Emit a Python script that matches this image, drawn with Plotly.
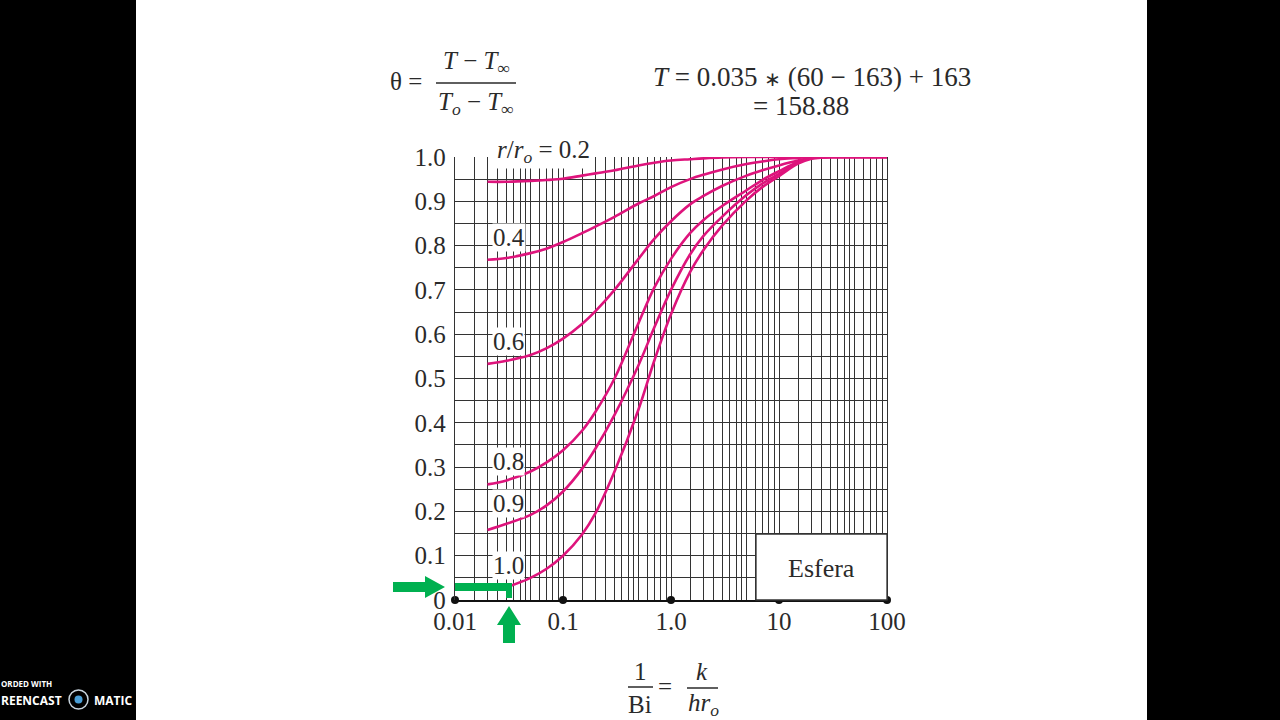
import math
import plotly.graph_objects as go

# ---------------- data ----------------
x_common = [0.02, 0.03, 0.05, 0.07, 0.1, 0.15, 0.2, 0.3, 0.5, 0.7, 1.0, 1.5, 2, 3, 5, 7, 10, 15, 20, 30, 50, 100]

y_r02 = [0.944, 0.944, 0.946, 0.948, 0.951, 0.958, 0.963, 0.970, 0.981, 0.987, 0.992, 0.995, 0.997, 0.999,
         1.0, 1.0, 1.0, 1.0, 1.0, 1.0, 1.0, 1.0]
y_r04 = [0.768, 0.772, 0.783, 0.793, 0.808, 0.828, 0.843, 0.865, 0.895, 0.912, 0.932, 0.950, 0.960, 0.972,
         0.984, 0.990, 0.995, 0.998, 1.0, 1.0, 1.0, 1.0]
y_r06 = [0.533, 0.540, 0.553, 0.568, 0.590, 0.623, 0.652, 0.700, 0.770, 0.815, 0.855, 0.893, 0.912, 0.935,
         0.958, 0.970, 0.981, 0.992, 0.998, 1.0, 1.0, 1.0]
y_r08 = [0.261, 0.270, 0.290, 0.310, 0.338, 0.382, 0.425, 0.500, 0.625, 0.705, 0.770, 0.828, 0.858, 0.890,
         0.925, 0.948, 0.968, 0.989, 0.998, 1.0, 1.0, 1.0]
y_r09 = [0.158, 0.172, 0.192, 0.213, 0.245, 0.296, 0.342, 0.418, 0.530, 0.615, 0.700, 0.780, 0.822, 0.866,
         0.914, 0.940, 0.962, 0.987, 0.997, 1.0, 1.0, 1.0]

x_r10 = [0.031, 0.05, 0.07, 0.1, 0.15, 0.2, 0.3, 0.5, 0.7, 1.0, 1.5, 2, 3, 5, 7, 10, 15, 20, 30, 50, 100]
y_r10 = [0.030, 0.050, 0.070, 0.100, 0.148, 0.196, 0.290, 0.430, 0.540, 0.645, 0.740, 0.790, 0.846, 0.902,
         0.932, 0.957, 0.985, 0.996, 1.0, 1.0, 1.0]

curve_names = ["0.2", "0.4", "0.6", "0.8", "0.9", "1.0"]
curves_x = [x_common, x_common, x_common, x_common, x_common, x_r10]
curves_y = [y_r02, y_r04, y_r06, y_r08, y_r09, y_r10]

x_decades = [0.01, 0.1, 1, 10, 100]
x_decade_labels = ["0.01", "0.1", "1.0", "10", "100"]
x_grid_mult = [1, 1.5, 2, 2.5, 3, 3.5, 4, 4.5, 5, 6, 7, 8, 9]
y_grid_step = 0.05
y_tick_labels = ["0", "0.1", "0.2", "0.3", "0.4", "0.5", "0.6", "0.7", "0.8", "0.9", "1.0"]

# ---------------- layout helpers ----------------
W, H = 1280, 720
L, R, T, B = 455, 887, 157, 600          # plot-area pixel edges


def px(xp):
    return (xp - L) / (R - L)


def py(yp):
    return (B - yp) / (B - T)


PINK = "#DE147C"
GRID = "#333333"
TXT = "#2a2a2a"
GREEN = "#00B050"
SERIF = "Liberation Serif"

# grid / tick arrays
x_grid = []
for k in range(-2, 2):
    for m in x_grid_mult:
        x_grid.append(round(m * 10 ** k, 6))
x_grid.append(100)
x_text = []
for v in x_grid:
    lab = ""
    for d, t in zip(x_decades, x_decade_labels):
        if abs(v - d) < 1e-9:
            lab = t
    x_text.append(lab)

y_grid = [round(i * y_grid_step, 4) for i in range(21)]
y_text = [y_tick_labels[i // 2] if i % 2 == 0 else "" for i in range(21)]

fig = go.Figure()

for xs, ys, nm in zip(curves_x, curves_y, curve_names):
    fig.add_trace(go.Scatter(x=xs, y=ys, mode="lines", name=nm,
                             line=dict(color=PINK, width=2.6, shape="spline", smoothing=1.0),
                             cliponaxis=False, hoverinfo="skip"))

fig.add_trace(go.Scatter(x=x_decades, y=[0] * len(x_decades), mode="markers",
                         marker=dict(color="#111", size=8), cliponaxis=False, hoverinfo="skip"))

fig.update_layout(
    width=W, height=H,
    margin=dict(l=L, r=W - R, t=T, b=H - B, pad=0),
    paper_bgcolor="white", plot_bgcolor="white",
    showlegend=False,
    font=dict(family=SERIF, color=TXT),
)
fig.update_xaxes(type="log", range=[-2, 2], tickmode="array", tickvals=x_grid, ticktext=x_text,
                 showgrid=True, gridcolor=GRID, gridwidth=1.1, ticks="", zeroline=False,
                 showline=True, linecolor="#111", linewidth=2,
                 tickfont=dict(family=SERIF, size=25, color=TXT), ticklabelstandoff=-2)
fig.update_yaxes(range=[0, 1], tickmode="array", tickvals=y_grid, ticktext=y_text,
                 showgrid=True, gridcolor=GRID, gridwidth=1.1, ticks="", zeroline=False,
                 showline=True, linecolor=GRID, linewidth=1.3, mirror=True,
                 tickfont=dict(family=SERIF, size=25, color=TXT), ticklabelstandoff=3)

shapes = []
# Esfera box
shapes.append(dict(type="rect", xref="paper", yref="paper", x0=px(756), x1=px(887), y0=py(600), y1=py(534),
                   fillcolor="white", line=dict(color=GRID, width=1.3), layer="above"))
# fraction bars
shapes.append(dict(type="line", xref="paper", yref="paper", x0=px(436), x1=px(516), y0=py(83), y1=py(83),
                   line=dict(color=TXT, width=1.5)))
shapes.append(dict(type="line", xref="paper", yref="paper", x0=px(628), x1=px(653), y0=py(687), y1=py(687),
                   line=dict(color=TXT, width=1.5)))
shapes.append(dict(type="line", xref="paper", yref="paper", x0=px(687), x1=px(718), y0=py(688), y1=py(688),
                   line=dict(color=TXT, width=1.5)))


def poly(pts, color):
    d = "M " + " L ".join(f"{px(a):.5f},{py(b):.5f}" for a, b in pts) + " Z"
    return dict(type="path", xref="paper", yref="paper", path=d, fillcolor=color,
                line=dict(width=0), layer="above")


# green arrows
shapes.append(poly([(393, 582), (425, 582), (425, 576), (445, 587), (425, 598), (425, 592), (393, 592)], GREEN))
shapes.append(poly([(455, 583), (512, 583), (512, 598), (506, 598), (506, 591), (455, 591)], GREEN))
shapes.append(poly([(503, 643), (503, 625), (497, 625), (509, 606), (521, 625), (515, 625), (515, 643)], GREEN))

# black side bands
shapes.append(dict(type="rect", xref="paper", yref="paper", x0=px(0), x1=px(136), y0=py(720), y1=py(0),
                   fillcolor="black", line=dict(width=0), layer="above"))
shapes.append(dict(type="rect", xref="paper", yref="paper", x0=px(1147), x1=px(1280), y0=py(720), y1=py(0),
                   fillcolor="black", line=dict(width=0), layer="above"))
# logo circle
shapes.append(dict(type="circle", xref="paper", yref="paper", x0=px(69), x1=px(88), y0=py(709), y1=py(690),
                   line=dict(color="#c8d4de", width=1.5), fillcolor="black", layer="above"))
shapes.append(dict(type="circle", xref="paper", yref="paper", x0=px(74.5), x1=px(82.5), y0=py(703.5), y1=py(695.5),
                   line=dict(width=0), fillcolor="#4a9fd8", layer="above"))
fig.update_layout(shapes=shapes)

ann = []


def text(xp, yp, s, size=25, anchor="center", family=SERIF, color=TXT, **kw):
    ann.append(dict(xref="paper", yref="paper", x=px(xp), y=py(yp), text=s, showarrow=False,
                    xanchor=anchor, yanchor="middle", font=dict(family=family, size=size, color=color), **kw))


# curve labels (data coords; log10 for x on log axis)
label_x = [0.0316, 0.0316, 0.0316, 0.0316, 0.0316]
label_y = [0.813, 0.578, 0.309, 0.214, 0.0745]
for lx, ly, lt in zip(label_x, label_y, curve_names[1:]):
    ann.append(dict(xref="x", yref="y", x=math.log10(lx), y=ly, text=lt, showarrow=False,
                    xanchor="center", yanchor="middle", bgcolor="white", borderpad=0, yshift=2,
                    font=dict(family=SERIF, size=25, color=TXT)))
# top label r/r_o = 0.2 (sits just above the plot area)
text(543, 152, "<i>r</i>/<i>r</i><sub><i>o</i></sub> = " + curve_names[0], size=25,
     bgcolor="white", borderpad=1)

text(821, 568, "Esfera", size=26)

# theta formula
text(406, 81, "θ =", size=25)
text(476, 62, "<i>T</i> − <i>T</i><sub>∞</sub>", size=25)
text(476, 103, "<i>T</i><sub><i>o</i></sub> − <i>T</i><sub>∞</sub>", size=25)

# T formula
text(812, 77, "<i>T</i> = 0.035 <span style=\"font-family:DejaVu Sans;font-size:20px\">∗</span> (60 − 163) + 163",
     size=27)
text(801, 106, "= 158.88", size=27)

# x axis title
text(640, 671, "1", size=25)
text(640, 704, "Bi", size=25)
text(665, 686, "=", size=25)
text(702, 671, "<i>k</i>", size=25)
text(703, 704, "<i>hr</i><sub><i>o</i></sub>", size=25)

# logo
text(-1, 683, "<b>ORDED WITH</b>", size=8, anchor="left", family="Open Sans", color="white")
text(-1, 700, "<b>REENCAST</b>", size=12, anchor="left", family="Open Sans", color="white")
text(92, 700, "<b>MATIC</b>", size=12, anchor="left", family="Open Sans", color="white")

fig.update_layout(annotations=ann)

fig.write_html("out.html", config={"displayModeBar": False},
               post_script="document.body.style.margin='0';document.body.style.overflow='hidden';")
